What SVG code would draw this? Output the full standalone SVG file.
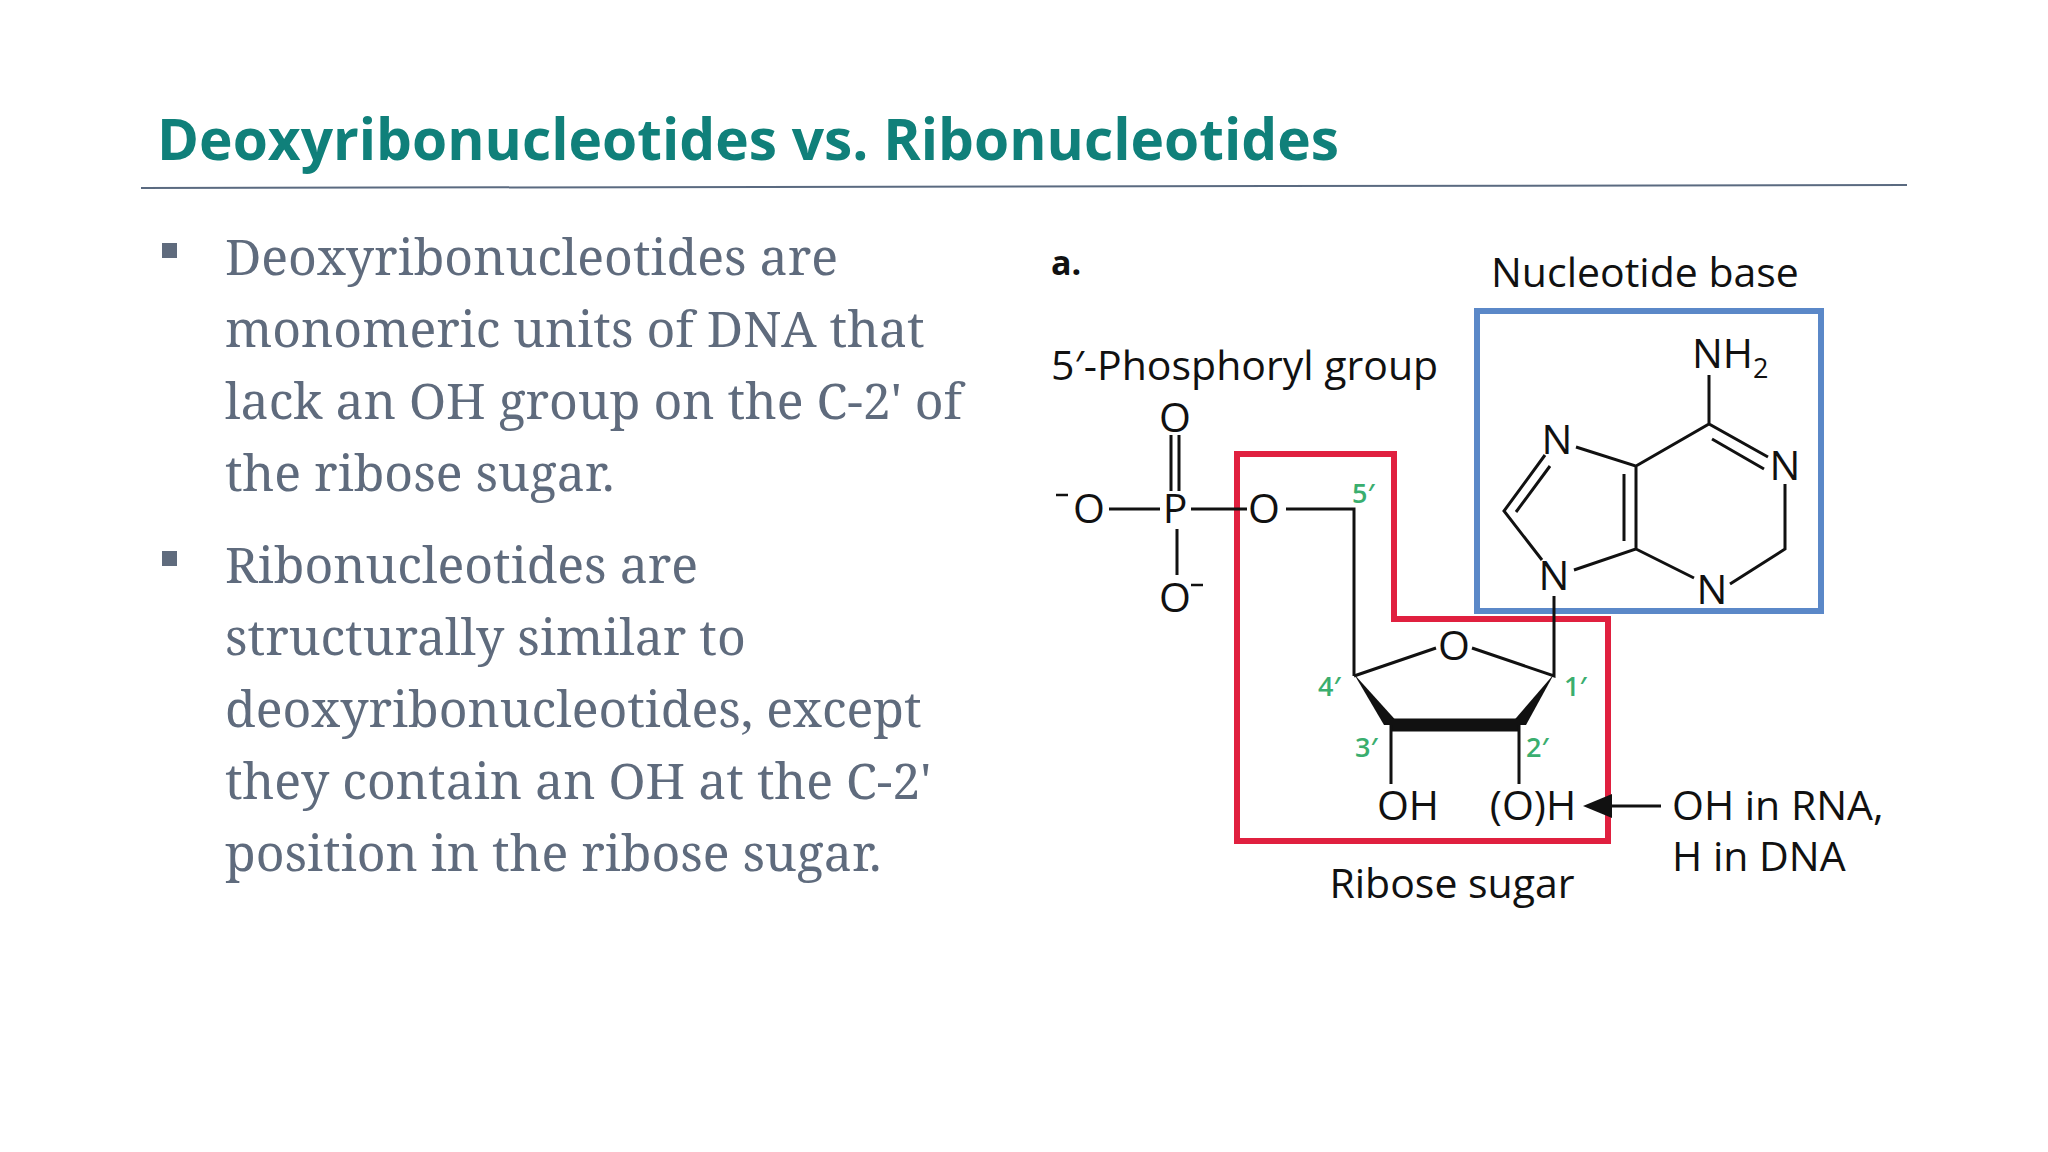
<svg xmlns="http://www.w3.org/2000/svg" width="2048" height="1152" viewBox="0 0 2048 1152">
<style>
.t{font-family:"Noto Serif","DejaVu Serif",serif;font-size:50px;fill:#5f6b7d}
.c{font-family:"Open Sans","Noto Sans",sans-serif;font-size:41px;fill:#111}
.g{font-family:"Open Sans","Noto Sans",sans-serif;font-size:27px;fill:#3aae6e;font-weight:600}
.b{stroke:#111;stroke-width:3;fill:none}
</style>
<rect width="2048" height="1152" fill="#fff"/>
<text x="157" y="160" font-family="'Open Sans','Noto Sans',sans-serif" font-weight="bold" font-size="58" fill="#10807a" textLength="1182" lengthAdjust="spacingAndGlyphs">Deoxyribonucleotides vs. Ribonucleotides</text>
<line x1="141" y1="188" x2="1907" y2="185" stroke="#5a6a80" stroke-width="2"/>
<g id="bullets">
<rect x="162" y="243" width="15" height="15" fill="#5f6b7d"/>
<text class="t" x="225" y="275">Deoxyribonucleotides are</text>
<text class="t" x="225" y="347">monomeric units of DNA that</text>
<text class="t" x="225" y="419">lack an OH group on the C-2' of</text>
<text class="t" x="225" y="491">the ribose sugar.</text>
<rect x="162" y="551" width="15" height="15" fill="#5f6b7d"/>
<text class="t" x="225" y="583">Ribonucleotides are</text>
<text class="t" x="225" y="655">structurally similar to</text>
<text class="t" x="225" y="727">deoxyribonucleotides, except</text>
<text class="t" x="225" y="799">they contain an OH at the C-2'</text>
<text class="t" x="225" y="871">position in the ribose sugar.</text>
</g>
<g id="labels">
<text x="1051" y="275" font-family="'Open Sans',sans-serif" font-weight="bold" font-size="34" fill="#111">a.</text>
<text class="c" x="1491" y="287">Nucleotide base</text>
<text class="c" x="1051" y="380">5′-Phosphoryl group</text>
<text class="c" x="1452" y="898" text-anchor="middle">Ribose sugar</text>
<text class="c" x="1672" y="820">OH in RNA,</text>
<text class="c" x="1672" y="871">H in DNA</text>
</g>
<g id="boxes">
<rect x="1477" y="311" width="344" height="300" fill="none" stroke="#5b88c8" stroke-width="6"/>
<polygon points="1237,454 1394,454 1394,619 1608,619 1608,841 1237,841" fill="none" stroke="#e0203f" stroke-width="6"/>
</g>
<g id="phosphate">
<text class="c" x="1175" y="432" text-anchor="middle">O</text>
<text class="c" x="1175" y="523" text-anchor="middle">P</text>
<text class="c" x="1089" y="523" text-anchor="middle">O</text>
<line x1="1056" y1="495" x2="1068" y2="495" stroke="#111" stroke-width="2.5"/>
<text class="c" x="1175" y="612" text-anchor="middle">O</text>
<line x1="1191" y1="585" x2="1203" y2="585" stroke="#111" stroke-width="2.5"/>
<text class="c" x="1264" y="523" text-anchor="middle">O</text>
</g>
<g id="connectors">
<path class="b" d="M1171 435V491M1179 435V491M1109 509H1160M1191 509H1247M1177 529V575M1286 509H1354V676"/>
<path class="b" d="M1354 676L1436 648M1472 648L1554 676V596"/>
<polygon points="1354,674 1384,725 1400,725" fill="#111"/>
<polygon points="1554,674 1510,725 1526,725" fill="#111"/>
<line x1="1391" y1="725" x2="1519" y2="725" stroke="#111" stroke-width="13"/>
<path class="b" d="M1391 725V784M1519 725V784"/>
<path class="b" d="M1542 560L1504 511L1545 455M1516 512L1550 466M1576 447L1636 466V549L1574 570M1624 474V541M1636 466L1709 424L1768 457M1712 439L1764 469M1785 484V549L1730 584M1694 578L1636 549M1709 424V375"/>
<line x1="1661" y1="806" x2="1610" y2="806" stroke="#111" stroke-width="3"/>
<polygon points="1583,806 1612,794 1612,818" fill="#111"/>
</g>
<g id="ring">
<text class="c" x="1454" y="660" text-anchor="middle">O</text>
<text class="c" x="1408" y="820" text-anchor="middle">OH</text>
<text class="c" x="1533" y="820" text-anchor="middle">(O)H</text>
<text class="g" x="1352" y="503">5′</text>
<text class="g" x="1318" y="696">4′</text>
<text class="g" x="1564" y="696">1′</text>
<text class="g" x="1355" y="757">3′</text>
<text class="g" x="1526" y="757">2′</text>
</g>
<g id="base">
<text class="c" x="1554" y="590" text-anchor="middle">N</text>
<text class="c" x="1557" y="454" text-anchor="middle">N</text>
<text class="c" x="1785" y="480" text-anchor="middle">N</text>
<text class="c" x="1712" y="604" text-anchor="middle">N</text>
<text class="c" x="1692" y="368">NH<tspan font-size="27" dy="10">2</tspan></text>
</g>
</svg>
